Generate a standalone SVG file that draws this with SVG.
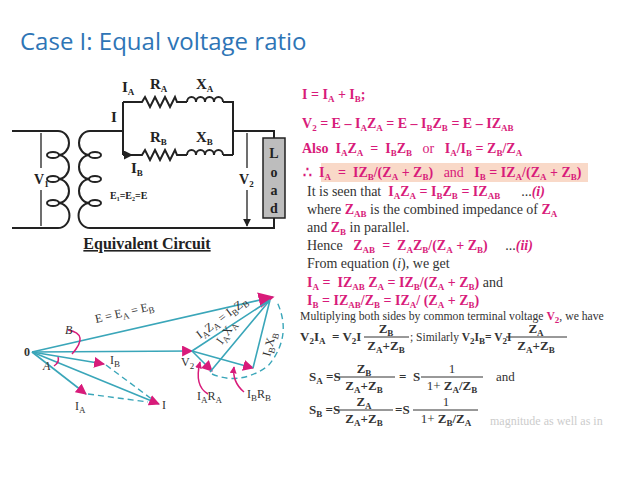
<svg xmlns="http://www.w3.org/2000/svg" width="638" height="478" viewBox="0 0 638 478">
<defs>
<style>
text{white-space:pre}
.w{fill:none;stroke:#222;stroke-width:2}
.cl{font-family:"Liberation Serif",serif;font-weight:bold;fill:#222}
.m{font-family:"Liberation Serif",serif;font-weight:bold;font-size:14px;fill:#d81b7a}
.t{font-family:"Liberation Serif",serif;font-size:14px;fill:#333}
.t2{font-family:"Liberation Serif",serif;font-size:13px;fill:#333}
.k{font-family:"Liberation Serif",serif;font-weight:bold;font-size:13px;fill:#333}
.s{font-size:9px;baseline-shift:-3px}
.ph{fill:none;stroke:#3aa6b9;stroke-width:1.6}
.dl{fill:none;stroke:#3aa6b9;stroke-width:1.4;stroke-dasharray:6 4}
.mg{fill:none;stroke:#d81b7a;stroke-width:1.5}
.pl{font-family:"Liberation Serif",serif;font-size:12px;fill:#333}
</style>
<marker id="ca" viewBox="0 0 10 10" refX="9" refY="5" markerWidth="6" markerHeight="6" orient="auto"><path d="M0,0L10,5L0,10z" fill="#222"/></marker>
<marker id="pa" viewBox="0 0 10 10" refX="9" refY="5" markerWidth="7" markerHeight="7" orient="auto" markerUnits="userSpaceOnUse"><path d="M0,0L10,5L0,10z" fill="#d81b7a"/></marker>
<marker id="pb" viewBox="0 0 10 10" refX="9" refY="5" markerWidth="11" markerHeight="11" orient="auto" markerUnits="userSpaceOnUse"><path d="M0,0L10,5L0,10z" fill="#d81b7a"/></marker>
<marker id="pc" viewBox="0 0 10 10" refX="9" refY="5" markerWidth="16" markerHeight="16" orient="auto" markerUnits="userSpaceOnUse"><path d="M0,0L10,5L0,10z" fill="#d81b7a"/></marker>
</defs>
<rect width="638" height="478" fill="#fff"/>
<text x="20" y="50" font-family="Open Sans, Liberation Sans, sans-serif" font-size="24" fill="#2e75b6">Case I: Equal voltage ratio</text>

<g id="circuit">
<path class="w" d="M12,131H58 M12,228H58"/>
<path class="w" d="M58,131a11,12 0 0 1 0,24a11,12 0 0 1 0,24a11,12 0 0 1 0,24a11,12 0 0 1 0,25"/>
<ellipse class="w" cx="53" cy="155" rx="6" ry="3"/><ellipse class="w" cx="53" cy="179" rx="6" ry="3"/><ellipse class="w" cx="53" cy="203" rx="6" ry="3"/>
<path class="w" d="M90,131a11,12 0 0 0 0,24a11,12 0 0 0 0,24a11,12 0 0 0 0,24a11,12 0 0 0 0,25"/>
<ellipse class="w" cx="95" cy="155" rx="6" ry="3"/><ellipse class="w" cx="95" cy="179" rx="6" ry="3"/><ellipse class="w" cx="95" cy="203" rx="6" ry="3"/>
<path class="w" d="M90,131H123 M123,102V155 M123,102H142 l3,-5 5,10 5,-10 5,10 5,-10 5,10 5,-10 2,5 H187 M223,102H233V155 M123,155H142 l3,-5 5,10 5,-10 5,10 5,-10 5,10 5,-10 2,5 H187 M223,155H233 M233,131H274V138 M274,218V228H90"/>
<path class="w" d="M187,102a4.5,5 0 0 1 9,0a4.5,5 0 0 1 9,0a4.5,5 0 0 1 9,0a4.5,5 0 0 1 9,0 M187,155a4.5,5 0 0 1 9,0a4.5,5 0 0 1 9,0a4.5,5 0 0 1 9,0a4.5,5 0 0 1 9,0"/>
<path d="M100,131H120 M123,102H132 M123,155H132" stroke="#222" stroke-width="1.5" marker-end="url(#ca)"/>
<path d="M41,168V133 M41,190V226 M247,168V133 M247,190V226" stroke="#222" stroke-width="1.3" marker-end="url(#ca)"/>
<rect x="263" y="138" width="22" height="80" fill="#bdbdbd" stroke="#222" stroke-width="1.5"/>
<text class="cl" font-size="14" text-anchor="middle" x="274"><tspan x="274" y="158">L</tspan><tspan x="274" y="177">o</tspan><tspan x="274" y="195">a</tspan><tspan x="274" y="213">d</tspan></text>
<text class="cl" font-size="15" x="122" y="92">I<tspan class="s">A</tspan></text>
<text class="cl" font-size="15" x="150" y="89">R<tspan class="s">A</tspan></text>
<text class="cl" font-size="15" x="196" y="89">X<tspan class="s">A</tspan></text>
<text class="cl" font-size="15" x="150" y="142">R<tspan class="s">B</tspan></text>
<text class="cl" font-size="15" x="196" y="142">X<tspan class="s">B</tspan></text>
<text class="cl" font-size="15" x="111" y="122">I</text>
<text class="cl" font-size="15" x="131" y="173">I<tspan class="s">B</tspan></text>
<text class="cl" font-size="14" x="34" y="184">V<tspan class="s">1</tspan></text>
<text class="cl" font-size="14" x="239" y="184">V<tspan class="s">2</tspan></text>
<text class="cl" font-size="10" x="110" y="199">E₁=E₂=E</text>
<text class="cl" font-size="16" x="147" y="249" text-anchor="middle" text-decoration="underline">Equivalent Circuit</text>
</g>

<g id="equations">
<rect x="321" y="163" width="267" height="19" fill="#f9d9c8"/>
<text class="m" x="302" y="99">I = I<tspan class="s">A</tspan><tspan> + I</tspan><tspan class="s">B</tspan><tspan>;</tspan></text>
<text class="m" x="302" y="128">V<tspan class="s">2</tspan><tspan> = E – I</tspan><tspan class="s">A</tspan><tspan>Z</tspan><tspan class="s">A</tspan><tspan> = E – I</tspan><tspan class="s">B</tspan><tspan>Z</tspan><tspan class="s">B</tspan><tspan> = E – IZ</tspan><tspan class="s">AB</tspan></text>
<text class="m" x="302" y="153">Also  I<tspan class="s">A</tspan><tspan>Z</tspan><tspan class="s">A</tspan><tspan>  =  I</tspan><tspan class="s">B</tspan><tspan>Z</tspan><tspan class="s">B</tspan><tspan font-weight="normal">   or   </tspan><tspan>I</tspan><tspan class="s">A</tspan><tspan>/I</tspan><tspan class="s">B</tspan><tspan> = Z</tspan><tspan class="s">B</tspan><tspan>/Z</tspan><tspan class="s">A</tspan></text>
<text class="m" x="303" y="177">∴  I<tspan class="s">A</tspan><tspan>  =  IZ</tspan><tspan class="s">B</tspan><tspan>/(Z</tspan><tspan class="s">A</tspan><tspan> + Z</tspan><tspan class="s">B</tspan><tspan>)   </tspan><tspan font-weight="normal">and</tspan><tspan>   I</tspan><tspan class="s">B</tspan><tspan> = IZ</tspan><tspan class="s">A</tspan><tspan>/(Z</tspan><tspan class="s">A</tspan><tspan> + Z</tspan><tspan class="s">B</tspan><tspan>)</tspan></text>
<text class="t" x="307" y="196">It is seen that  <tspan class="m">I</tspan><tspan class="m s">A</tspan><tspan class="m">Z</tspan><tspan class="m s">A</tspan><tspan class="m"> = I</tspan><tspan class="m s">B</tspan><tspan class="m">Z</tspan><tspan class="m s">B</tspan><tspan class="m"> = IZ</tspan><tspan class="m s">AB</tspan><tspan>      ...</tspan><tspan class="m" font-style="italic">(i)</tspan></text>
<text class="t" x="307" y="214">where <tspan class="m">Z</tspan><tspan class="m s">AB</tspan><tspan> is the combined impedance of </tspan><tspan class="m">Z</tspan><tspan class="m s">A</tspan></text>
<text class="t" x="307" y="232">and <tspan class="m">Z</tspan><tspan class="m s">B</tspan><tspan> in parallel.</tspan></text>
<text class="t" x="307" y="250">Hence   <tspan class="m">Z</tspan><tspan class="m s">AB</tspan><tspan class="m">  =  Z</tspan><tspan class="m s">A</tspan><tspan class="m">Z</tspan><tspan class="m s">B</tspan><tspan class="m">/(Z</tspan><tspan class="m s">A</tspan><tspan class="m"> + Z</tspan><tspan class="m s">B</tspan><tspan class="m">)</tspan><tspan>     ...</tspan><tspan class="m" font-style="italic">(ii)</tspan></text>
<text class="t" x="307" y="268">From equation (<tspan font-style="italic">i</tspan><tspan>), we get</tspan></text>
<text class="m" x="307" y="287">I<tspan class="s">A</tspan><tspan> =  IZ</tspan><tspan class="s">AB</tspan><tspan> Z</tspan><tspan class="s">A</tspan><tspan> = IZ</tspan><tspan class="s">B</tspan><tspan>/(Z</tspan><tspan class="s">A</tspan><tspan> + Z</tspan><tspan class="s">B</tspan><tspan>)</tspan><tspan class="t" font-weight="normal"> and</tspan></text>
<text class="m" x="307" y="305">I<tspan class="s">B</tspan><tspan> = IZ</tspan><tspan class="s">AB</tspan><tspan>/Z</tspan><tspan class="s">B</tspan><tspan> = IZ</tspan><tspan class="s">A</tspan><tspan>/ (Z</tspan><tspan class="s">A</tspan><tspan> + Z</tspan><tspan class="s">B</tspan><tspan>)</tspan></text>
<text x="300" y="320" style="font-family:'Liberation Serif',serif;font-size:11.7px;fill:#333">Multiplying both sides by common terminal voltage <tspan style="font-weight:bold;fill:#d81b7a">V</tspan><tspan class="s" style="font-weight:bold;fill:#d81b7a">2</tspan><tspan>, we have</tspan></text>

<text class="k" x="300" y="341">V<tspan class="s">2</tspan><tspan>I</tspan><tspan class="s">A</tspan><tspan>  = V</tspan><tspan class="s">2</tspan><tspan>I</tspan></text>
<text class="k" x="386" y="333" text-anchor="middle">Z<tspan class="s">B</tspan></text>
<path d="M364,337H409" stroke="#333" stroke-width="1"/>
<text class="k" x="386" y="350" text-anchor="middle">Z<tspan class="s">A</tspan><tspan>+Z</tspan><tspan class="s">B</tspan></text>
<text x="410" y="341" style="font-family:'Liberation Serif',serif;font-size:11.5px;fill:#333">; Similarly <tspan font-weight="bold">V</tspan><tspan class="s" font-weight="bold">2</tspan><tspan font-weight="bold">I</tspan><tspan class="s" font-weight="bold">B</tspan><tspan font-weight="bold">= V</tspan><tspan class="s" font-weight="bold">2</tspan><tspan font-weight="bold">I</tspan></text>
<text class="k" x="536" y="333" text-anchor="middle">Z<tspan class="s">A</tspan></text>
<path d="M506,337H567" stroke="#333" stroke-width="1"/>
<text class="k" x="536" y="350" text-anchor="middle">Z<tspan class="s">A</tspan><tspan>+Z</tspan><tspan class="s">B</tspan></text>

<text class="k" x="309" y="381">S<tspan class="s">A</tspan><tspan> =S</tspan></text>
<text class="k" x="364" y="373" text-anchor="middle">Z<tspan class="s">B</tspan></text>
<path d="M335,377H395" stroke="#333" stroke-width="1"/>
<text class="k" x="364" y="390" text-anchor="middle">Z<tspan class="s">A</tspan><tspan>+Z</tspan><tspan class="s">B</tspan></text>
<text class="k" x="399" y="381">=  S</text>
<text class="t2" x="452" y="373" text-anchor="middle">1</text>
<path d="M421,377H483" stroke="#333" stroke-width="1"/>
<text class="t2" x="452" y="390" text-anchor="middle">1+ <tspan font-weight="bold">Z</tspan><tspan class="s" font-weight="bold">A</tspan><tspan font-weight="bold">/Z</tspan><tspan class="s" font-weight="bold">B</tspan></text>
<text class="t2" x="496" y="381">and</text>

<text class="k" x="309" y="414">S<tspan class="s">B</tspan><tspan> =S</tspan></text>
<text class="k" x="364" y="406" text-anchor="middle">Z<tspan class="s">A</tspan></text>
<path d="M335,410H393" stroke="#333" stroke-width="1"/>
<text class="k" x="364" y="423" text-anchor="middle">Z<tspan class="s">A</tspan><tspan>+Z</tspan><tspan class="s">B</tspan></text>
<text class="k" x="395" y="414">=S</text>
<text class="t2" x="446" y="406" text-anchor="middle">1</text>
<path d="M413,410H478" stroke="#333" stroke-width="1"/>
<text class="t2" x="446" y="423" text-anchor="middle">1+ <tspan font-weight="bold">Z</tspan><tspan class="s" font-weight="bold">B</tspan><tspan font-weight="bold">/Z</tspan><tspan class="s" font-weight="bold">A</tspan></text>
<text x="490" y="425" font-family="Liberation Serif, serif" font-size="12" fill="#ccc">magnitude as well as in</text>
</g>

<g id="phasor">
<path class="ph" d="M32,352L273,297" marker-end="url(#pc)"/>
<path class="ph" d="M32,352L192,351" marker-end="url(#pb)"/>
<path class="ph" d="M32,352L104,364" marker-end="url(#pb)"/>
<path class="ph" d="M32,352L86,394" marker-end="url(#pb)"/>
<path class="ph" d="M32,352L159,404" marker-end="url(#pb)"/>
<path class="dl" d="M106,365L153,400 M88,394L148,402"/>
<path class="ph" d="M192,351L212,371" marker-end="url(#pb)"/>
<path class="ph" d="M192,351L253,368" marker-end="url(#pb)"/>
<path class="ph" d="M192,351L270,300 M210,372L270,300 M253,368L270,300"/>
<path class="dl" d="M212,374Q240,386 268,366Q293,336 277,302"/>
<path class="mg" d="M68,330Q90,334 72,354 M58,357Q60,362 54,366"/>
<path class="mg" d="M208,394Q194,386 200,362" marker-end="url(#pa)"/>
<path class="mg" d="M244,392Q232,382 234,367" marker-end="url(#pa)"/>
<text class="pl" x="24" y="356" font-weight="bold">0</text>
<text class="pl" x="65" y="334" font-size="8" font-style="italic">B</text>
<text class="pl" x="43" y="370" font-size="8" font-style="italic">A</text>
<text class="pl" x="96" y="323" transform="rotate(-13 96 323)">E = E<tspan class="s">A</tspan><tspan> = E</tspan><tspan class="s">B</tspan></text>
<text class="pl" x="110" y="364">I<tspan class="s">B</tspan></text>
<text class="pl" x="75" y="410">I<tspan class="s">A</tspan></text>
<text class="pl" x="162" y="409">I</text>
<text class="pl" x="181" y="366">V<tspan class="s">2</tspan></text>
<text class="pl" x="200" y="339" transform="rotate(-37 200 339)">I<tspan class="s">A</tspan><tspan>Z</tspan><tspan class="s">A</tspan><tspan> = I</tspan><tspan class="s">B</tspan><tspan>Z</tspan><tspan class="s">B</tspan></text>
<text class="pl" x="222" y="345" transform="rotate(-55 222 345)">I<tspan class="s">A</tspan><tspan>X</tspan><tspan class="s">A</tspan></text>
<text class="pl" x="270" y="357" transform="rotate(-75 270 357)">I<tspan class="s">B</tspan><tspan>X</tspan><tspan class="s">B</tspan></text>
<text class="pl" x="197" y="400">I<tspan class="s">A</tspan><tspan>R</tspan><tspan class="s">A</tspan></text>
<text class="pl" x="247" y="398">I<tspan class="s">B</tspan><tspan>R</tspan><tspan class="s">B</tspan></text>
</g>
</svg>
